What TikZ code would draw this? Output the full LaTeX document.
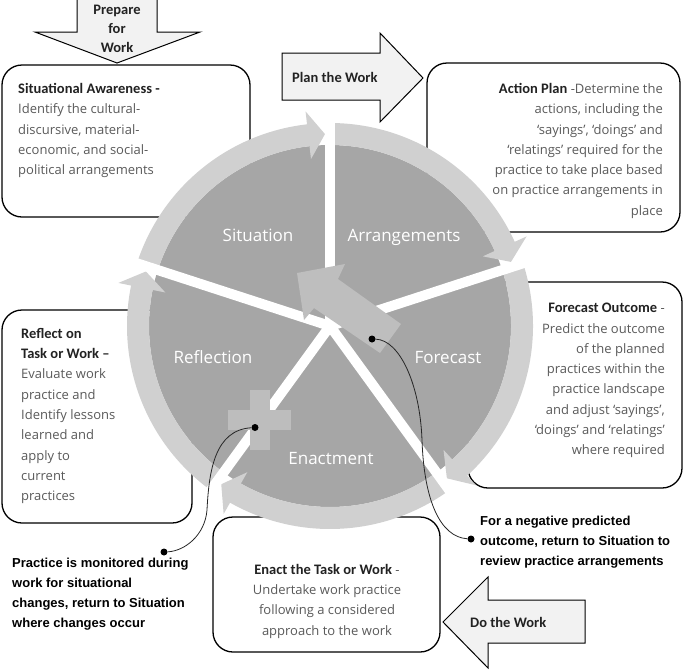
\documentclass[tikz,border=0pt]{standalone}
\usepackage{fontspec}
\setmainfont{Open Sans}
\newfontfamily\hfont{Carlito}
\newfontfamily\nfont{Liberation Sans}
\usetikzlibrary{calc}
\definecolor{pie}{HTML}{A6A6A6}
\definecolor{ringc}{HTML}{D0D0D0}
\definecolor{bigarrowc}{HTML}{BEBEBE}
\definecolor{plusc}{HTML}{BDBDBD}
\definecolor{bodytxt}{HTML}{5A5A5A}
\definecolor{headtxt}{HTML}{222222}
\definecolor{blockfill}{HTML}{F2F2F2}
\tikzset{
 boxshape/.style={draw=black, line width=1.3pt, rounded corners=20pt, fill=white, inner sep=0pt},
 blockarrow/.style={draw=black, line width=1pt, fill=blockfill},
 bodytext/.style={inner sep=0pt, text=bodytxt, font=\fontsize{13}{20.3}\selectfont},
 notetext/.style={inner sep=0pt, text=black, align=left, anchor=north west, font=\nfont\bfseries\fontsize{13}{20}\selectfont},
 lbl/.style={inner sep=0pt, text=white, font=\fontsize{17}{20}\selectfont, anchor=base},
 arrowlbl/.style={inner sep=0pt, text=headtxt, font=\hfont\bfseries\fontsize{14.5}{19}\selectfont},
 dot/.style={circle, fill=black, inner sep=0pt, minimum size=7pt},
 linker/.style={draw=black!85, line width=0.8pt},
}
\newcommand\hd[1]{{\hfont\bfseries\fontsize{14.5}{20.3}\selectfont\color{headtxt}#1}}
\begin{document}
\begin{tikzpicture}[x=1pt,y=1pt]
\useasboundingbox (0,0) rectangle (685,-670);
\clip (0,0) rectangle (685,-670);
% boxes
\node[boxshape, minimum width=248pt, minimum height=152pt] (sitbox) at (126,-141) {};
\node[boxshape, minimum width=253pt, minimum height=169pt] (actbox) at (553.5,-147.5) {};
\node[boxshape, minimum width=214pt, minimum height=206pt] (forbox) at (575,-385) {};
\node[boxshape, minimum width=190pt, minimum height=213pt] (refbox) at (97,-416.5) {};
\node[boxshape, minimum width=227pt, minimum height=135pt] (enbox) at (326.5,-584.5) {};
% block arrows
\draw[blockarrow] (77,4) -- (77,-32) -- (35,-32) -- (117,-63) -- (200,-32) -- (157,-32) -- (157,4) -- cycle;
\draw[blockarrow] (282,-53) -- (380,-53) -- (380,-33) -- (423,-78) -- (380,-122) -- (380,-100) -- (282,-100) -- cycle;
\draw[blockarrow] (585,-600) -- (488,-600) -- (488,-577) -- (443,-622) -- (488,-668) -- (488,-643) -- (585,-643) -- cycle;
% cycle
\coordinate (C) at (330,-326);
\fill[pie] (C) circle[radius=181];
\foreach \s in {162,90,18,-54,-126}{
 \pgfmathsetmacro\angb{\s-72+6.5}
 \pgfmathsetmacro\angt{\s-72+1.5}
 \fill[ringc] ($(C)+(\s:181)$) arc[start angle=\s, end angle=\angb, radius=181]
   -- ($(C)+(\angb:168)$) -- ($(C)+(\angt:192)$) -- ($(C)+(\angb:216)$)
   -- ($(C)+(\angb:203)$) arc[start angle=\angb, end angle=\s, radius=203] -- cycle;
}
\foreach \s in {162,90,18,-54,-126}
 \draw[white, line width=10pt] (C) -- ($(C)+(\s:206)$);
% centre arrow and plus
\fill[bigarrowc] (297,-273) -- (345,-264) -- (338,-279) -- (401,-324) -- (380,-353) -- (314,-308) -- (304,-320) -- cycle;
\fill[plusc] (250,-390) rectangle (269.5,-450);
\fill[plusc] (228,-410) rectangle (291,-430);
% circle labels
\node[lbl] (lsit) at (258,-241) {Situation};
\node[lbl] (larr) at (404,-241) {Arrangements};
\node[lbl] (lref) at (213,-363) {Reflection};
\node[lbl] (lfor) at (448,-363) {Forecast};
\node[lbl] (lena) at (331,-464) {Enactment};
% dots and linkers
\node[dot] (dplus) at (255,-427.5) {};
\node[dot] (darrow) at (372,-339) {};
\node[dot] (dleft) at (164,-552) {};
\node[dot] (dright) at (471,-539) {};
\coordinate (mleft) at (207,-510);
\coordinate (mright) at (422,-440);
\draw[linker] (dplus) .. controls (215,-430) and (209,-470) .. (mleft) .. controls (205,-535) and (185,-551) .. (dleft);
\draw[linker] (darrow) .. controls (400,-340) and (420,-385) .. (mright) .. controls (424,-500) and (440,-537) .. (dright);
% box texts
\node[bodytext, anchor=north west, align=left] (sittext) at (18,-83) {\hd{Situational Awareness -}\\Identify the cultural-\\discursive, material-\\economic, and social-\\political arrangements};
\node[bodytext, anchor=north east, align=right] (acttext) at (663,-83) {\hd{Action Plan} -Determine the\\actions, including the\\‘sayings’, ‘doings’ and\\‘relatings’ required for the\\practice to take place based\\on practice arrangements in\\place};
\node[bodytext, anchor=north east, align=right] (fortext) at (665,-303) {\hd{Forecast Outcome} -\\Predict the outcome\\of the planned\\practices within the\\practice landscape\\and adjust ‘sayings’,\\‘doings’ and ‘relatings’\\where required};
\node[bodytext, anchor=north west, align=left] (reftext) at (21,-328) {\hd{Reflect on}\\\hd{Task or Work –}\\Evaluate work\\practice and\\Identify lessons\\learned and\\apply to\\current\\practices};
\node[bodytext, anchor=north, align=center] (entext) at (327,-564) {\hd{Enact the Task or Work} -\\Undertake work practice\\following a considered\\approach to the work};
% notes
\node[notetext] (noteleft) at (12,-558) {Practice is monitored during\\work for situational\\changes, return to Situation\\where changes occur};
\node[notetext] (noteright) at (480,-516) {For a negative predicted\\outcome, return to Situation to\\review practice arrangements};
% arrow labels
\node[arrowlbl, align=center, anchor=north] (preplbl) at (117,-5) {Prepare\\for\\Work};
\node[arrowlbl, anchor=west] (planlbl) at (292,-77) {Plan the Work};
\node[arrowlbl, anchor=west] (dolbl) at (470,-622) {Do the Work};
\end{tikzpicture}
\end{document}
